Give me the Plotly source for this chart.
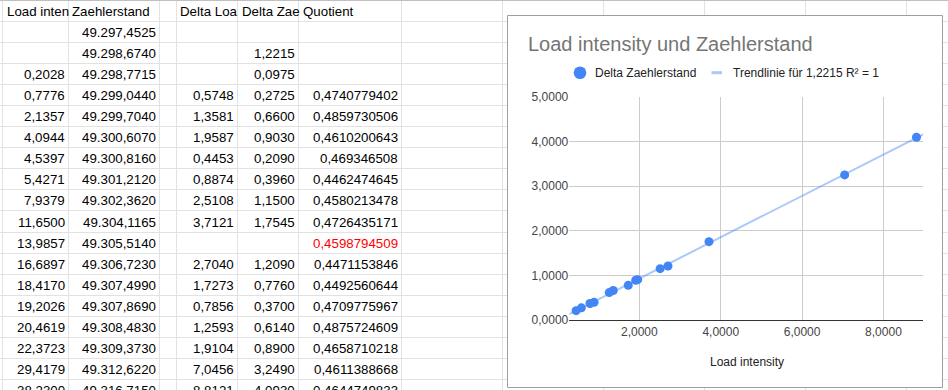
import numpy as np
import plotly.graph_objects as go

W, H = 948, 390

# ---------------- data ----------------
headers = ["Load inten", "Zaehlerstand", "Delta Loa", "Delta Zae", "Quotient"]
load_intensity = [None, None, 0.2028, 0.7776, 2.1357, 4.0944, 4.5397, 5.4271, 7.9379,
                  11.6500, 13.9857, 16.6897, 18.4170, 19.2026, 20.4619, 22.3723, 29.4179, 38.2300]
zaehlerstand = [49297.4525, 49298.6740, 49298.7715, 49299.0440, 49299.7040, 49300.6070,
                49300.8160, 49301.2120, 49302.3620, 49304.1165, 49305.5140, 49306.7230,
                49307.4990, 49307.8690, 49308.4830, 49309.3730, 49312.6220, 49316.7150]
delta_load = [None, None, None, 0.5748, 1.3581, 1.9587, 0.4453, 0.8874, 2.5108, 3.7121,
              None, 2.7040, 1.7273, 0.7856, 1.2593, 1.9104, 7.0456, 8.8121]
delta_zaehler = [None, 1.2215, 0.0975, 0.2725, 0.6600, 0.9030, 0.2090, 0.3960, 1.1500, 1.7545,
                 None, 1.2090, 0.7760, 0.3700, 0.6140, 0.8900, 3.2490, 4.0930]
quotient = [None, None, None, 0.4740779402, 0.4859730506, 0.4610200643, 0.469346508,
            0.4462474645, 0.4580213478, 0.4726435171, 0.4598794509, 0.4471153846,
            0.4492560644, 0.4709775967, 0.4875724609, 0.4658710218, 0.4611388668, 0.4644749833]
quotient_highlight = [i == 10 for i in range(len(quotient))]

chart_title = "Load intensity und Zaehlerstand"
series_name = "Delta Zaehlerstand"
trend_name = "Trendlinie für 1,2215 R² = 1"
x_title = "Load intensity"

# ---------------- helpers ----------------
def px(x):
    return x / W

def py(y):
    return 1 - y / H

def fmt_num(v, dec=4, grouped=False):
    s = f"{v:,.{dec}f}" if grouped else f"{v:.{dec}f}"
    return s.replace(",", "X").replace(".", ",").replace("X", ".")

def fmt_q(v):
    return f"{v:.10f}".rstrip("0").replace(".", ",")

SHEET_FONT = "Arial, Liberation Sans, sans-serif"
CHART_FONT = "Arial, Liberation Sans, sans-serif"

shapes = []
annotations = []

# ---------------- spreadsheet grid ----------------
grid_c = "#e2e2e2"
col_lines = [2.5, 68.5, 159.5, 176.5, 237.5, 298.5, 401.5, 502.5, 603.5, 704.5, 805.5, 906.5]
row_h = 21.05
n_rows = len(zaehlerstand)
for k in range(1, n_rows + 1):
    y = round(row_h * k) + 0.5
    shapes.append(dict(type="line", xref="paper", yref="paper", x0=0, x1=1,
                       y0=py(y), y1=py(y), line=dict(color=grid_c, width=1), layer="below"))
for x in col_lines:
    shapes.append(dict(type="line", xref="paper", yref="paper", x0=px(x), x1=px(x),
                       y0=0, y1=1, line=dict(color=grid_c, width=1), layer="below"))
shapes.append(dict(type="line", xref="paper", yref="paper", x0=0, x1=1,
                   y0=py(0.5), y1=py(0.5), line=dict(color="#c0c0c0", width=1), layer="below"))

def cell_text(text, x, y, anchor, color="#000000"):
    annotations.append(dict(text=text, x=px(x), y=py(y), xref="paper", yref="paper",
                            xanchor=anchor, yanchor="middle", showarrow=False,
                            borderpad=0, borderwidth=0,
                            font=dict(family=SHEET_FONT, size=13.3, color=color)))

header_left = [6.5, 71.5, 179.5, 241.5, 302.5]
for h, x in zip(headers, header_left):
    cell_text(h, x, 11.5, "left")

right_edges = [64.5, 155.5, 233.5, 294.5, 397.5]
for i in range(n_rows):
    yc = 11.5 + row_h * (i + 1)
    if load_intensity[i] is not None:
        cell_text(fmt_num(load_intensity[i]), right_edges[0], yc, "right")
    if zaehlerstand[i] is not None:
        cell_text(fmt_num(zaehlerstand[i], grouped=True), right_edges[1], yc, "right")
    if delta_load[i] is not None:
        cell_text(fmt_num(delta_load[i]), right_edges[2], yc, "right")
    if delta_zaehler[i] is not None:
        cell_text(fmt_num(delta_zaehler[i]), right_edges[3], yc, "right")
    if quotient[i] is not None:
        cell_text(fmt_q(quotient[i]), right_edges[4], yc, "right",
                  color="#ff0000" if quotient_highlight[i] else "#000000")

# ---------------- chart box ----------------
shapes.append(dict(type="rect", xref="paper", yref="paper", x0=px(507.5), x1=px(942.5),
                   y0=py(387.5), y1=py(15.5), fillcolor="#ffffff",
                   line=dict(color="#9e9e9e", width=1), layer="below"))

annotations.append(dict(text=chart_title, x=px(526.5), y=py(43.5), xref="paper", yref="paper",
                        xanchor="left", yanchor="middle", showarrow=False, borderpad=0,
                        font=dict(family=CHART_FONT, size=20, color="#757575")))

# legend (manual)
blue = "#4285f4"
trend_col = "rgba(66,133,244,0.45)"
shapes.append(dict(type="circle", xref="paper", yref="paper",
                   x0=px(580 - 6.3), x1=px(580 + 6.3), y0=py(72.7 + 6.3), y1=py(72.7 - 6.3),
                   fillcolor=blue, line=dict(width=0), layer="above"))
annotations.append(dict(text=series_name, x=px(594), y=py(73), xref="paper", yref="paper",
                        xanchor="left", yanchor="middle", showarrow=False, borderpad=0,
                        font=dict(family=CHART_FONT, size=12, color="#222222")))
shapes.append(dict(type="line", xref="paper", yref="paper", x0=px(711.5), x1=px(722),
                   y0=py(72.7), y1=py(72.7), line=dict(color=trend_col, width=3), layer="above"))
annotations.append(dict(text=trend_name, x=px(732.3), y=py(73), xref="paper", yref="paper",
                        xanchor="left", yanchor="middle", showarrow=False, borderpad=0,
                        font=dict(family=CHART_FONT, size=12, color="#222222")))

annotations.append(dict(text=x_title, x=px(746.5), y=py(362), xref="paper", yref="paper",
                        xanchor="center", yanchor="middle", showarrow=False, borderpad=0,
                        font=dict(family=CHART_FONT, size=12, color="#222222")))

# ---------------- scatter + trendline ----------------
pts = [(a, b) for a, b in zip(delta_load, delta_zaehler) if a is not None and b is not None]
xs = np.array([p[0] for p in pts])
ys = np.array([p[1] for p in pts])
span = xs.max() - xs.min()
x_range = [xs.min() - 0.02 * span, xs.max() + 0.02 * span]
m, b = np.polyfit(xs, ys, 1)
tx = np.array(x_range)
ty = m * tx + b

fig = go.Figure()
fig.add_trace(go.Scatter(x=tx, y=ty, mode="lines", line=dict(color=trend_col, width=2),
                         name=trend_name, hoverinfo="skip"))
fig.add_trace(go.Scatter(x=xs, y=ys, mode="markers", marker=dict(color=blue, size=9),
                         name=series_name))

fig.update_layout(
    width=W, height=H, margin=dict(l=0, r=0, t=0, b=0, autoexpand=False),
    paper_bgcolor="#ffffff", plot_bgcolor="rgba(0,0,0,0)",
    showlegend=False, separators=",.",
    shapes=shapes, annotations=annotations,
    xaxis=dict(domain=[px(569.3), px(923.3)], range=x_range, tick0=0, dtick=2,
               tickformat=".4f", showgrid=True, gridcolor="#cccccc", gridwidth=1,
               zeroline=False, showline=False, ticks="", automargin=False,
               ticklabelstandoff=3,
               tickfont=dict(family=CHART_FONT, size=12, color="#444444")),
    yaxis=dict(domain=[py(320), py(96.7)], range=[0, 5], tick0=0, dtick=1,
               tickformat=".4f", showgrid=True, gridcolor="#cccccc", gridwidth=1,
               zeroline=True, zerolinecolor="#333333", zerolinewidth=1,
               showline=False, ticks="", automargin=False,
               tickfont=dict(family=CHART_FONT, size=12, color="#444444")),
)

fig.write_html(
    "out.html",
    config={"displayModeBar": False, "responsive": False},
    post_script="document.body.style.margin='0';document.body.style.padding='0';"
                "document.body.style.overflow='hidden';",
)
